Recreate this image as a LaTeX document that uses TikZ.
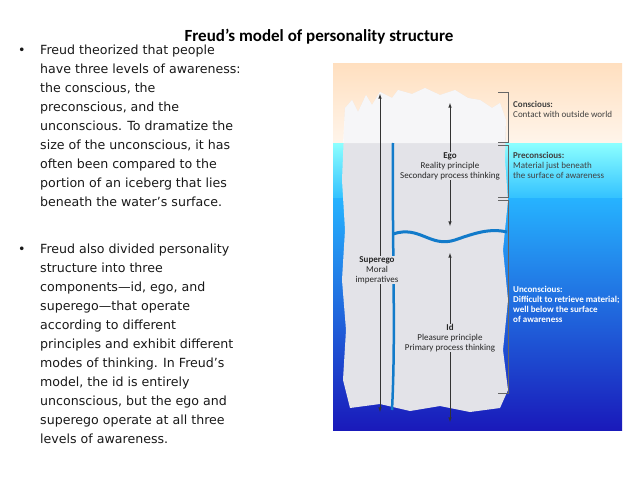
\documentclass[tikz,border=0pt]{standalone}
\usepackage{fontspec}
\setmainfont{Carlito}
\newfontfamily\bodyfont{DejaVu Sans}
\begin{document}
\begin{tikzpicture}[x=1pt,y=-1pt,
  body/.style={anchor=base west,font=\bodyfont\fontsize{12.6}{15}\selectfont,text=black!90,inner sep=0},
  lbl/.style={font=\fontsize{9}{10}\selectfont,text=black!85,align=center,inner sep=0},
  rl/.style={font=\fontsize{9}{10}\selectfont,align=left,anchor=north west,inner sep=0},
  arr/.style={<->,>=latex,black!80,line width=0.6pt},
  brk/.style={black!60,line width=0.6pt}]
\useasboundingbox (0,0) rectangle (638,479);
\fill[white] (0,0) rectangle (638,479);
\node[font=\bfseries\fontsize{17}{20}\selectfont,inner sep=0] (title) at (319,37) {Freud’s model of personality structure};
% panel
\shade[top color=orange!25!white,bottom color=orange!8!white] (333,63) rectangle (622,143);
\shade[top color=cyan!45!white,bottom color=cyan!70!blue!80] (333,143) rectangle (622,198);
\shade[top color=cyan!65!blue!85,bottom color=blue!70!black!90] (333,198) rectangle (622,430);
% iceberg
\fill[blue!10!gray!20!white] (345,108) -- (352,100) -- (358,112) -- (366,95) -- (372,105) -- (380,92) -- (392,98) -- (398,90) -- (412,94) -- (425,88) -- (440,95) -- (455,90) -- (468,98) -- (480,100) -- (492,108) -- (500,103) -- (506,120) -- (505,160) -- (508,200) -- (503,250) -- (508,300) -- (503,350) -- (508,390) -- (500,408) -- (470,412) -- (440,406) -- (410,411) -- (380,404) -- (350,408) -- (343,380) -- (346,330) -- (342,280) -- (345,230) -- (342,180) -- cycle;
\fill[white,opacity=0.7] (345,108) -- (352,100) -- (358,112) -- (366,95) -- (372,105) -- (380,92) -- (392,98) -- (398,90) -- (412,94) -- (425,88) -- (440,95) -- (455,90) -- (468,98) -- (480,100) -- (492,108) -- (500,103) -- (506,120) -- (505,143) -- (343,143) -- cycle;
% dividers
\draw[cyan!60!blue,line width=2.5pt] (393,143) .. controls (392,250) and (396,330) .. (392,410);
\draw[cyan!60!blue,line width=3pt] (393,234) .. controls (420,225) and (430,248) .. (455,240) .. controls (475,233) and (490,228) .. (507,232);
% arrows
\coordinate (st) at (380,94); \coordinate (sb) at (380,412);
\draw[arr] (st) -- (sb);
\coordinate (et) at (450,103); \coordinate (eb) at (450,226);
\draw[arr] (et) -- (eb);
\coordinate (it) at (450,253); \coordinate (ib) at (450,422);
\draw[arr] (it) -- (ib);
\node[lbl,fill=blue!10!gray!20!white] (ego) at (450,166) {\textbf{Ego}\\Reality principle\\Secondary process thinking};
\node[lbl,fill=blue!10!gray!20!white] (sup) at (377,270) {\textbf{Superego}\\Moral\\imperatives};
\node[lbl,fill=blue!10!gray!20!white] (id) at (450,338) {\textbf{Id}\\Pleasure principle\\Primary process thinking};
% brackets
\draw[brk] (498,92) -- (508,92) -- (508,142) -- (498,142);
\draw[brk] (498,145) -- (508,145) -- (508,197) -- (498,197);
\draw[brk] (498,200) -- (508,200) -- (508,393) -- (498,393);
\node[rl,text=black!75] (c) at (513,101) {\textbf{Conscious:}\\Contact with outside world};
\node[rl,text=black!75] (p) at (513,152) {\textbf{Preconscious:}\\Material just beneath\\the surface of awareness};
\node[rl,text=white] (u) at (513,286) {\textbf{Unconscious:}\\\textbf{Difficult to retrieve material;}\\\textbf{well below the surface}\\\textbf{of awareness}};
% bullets
\node[body] (b1) at (18,54) {•};
\node[body] (b2) at (18,253) {•};
\foreach \t [count=\i] in {Freud theorized that people,have three levels of awareness:,{the conscious, the},{preconscious, and the},unconscious. To dramatize the,{size of the unconscious, it has},often been compared to the,portion of an iceberg that lies,beneath the water’s surface.}
  \node[body] (l\i) at (40,54+19*\i-19) {\t};
\foreach \t [count=\i] in {Freud also divided personality,structure into three,{components—id, ego, and},superego—that operate,according to different,principles and exhibit different,modes of thinking. In Freud’s,{model, the id is entirely},{unconscious, but the ego and},superego operate at all three,levels of awareness.}
  \node[body] (m\i) at (40,253+19*\i-19) {\t};
\end{tikzpicture}
\end{document}
